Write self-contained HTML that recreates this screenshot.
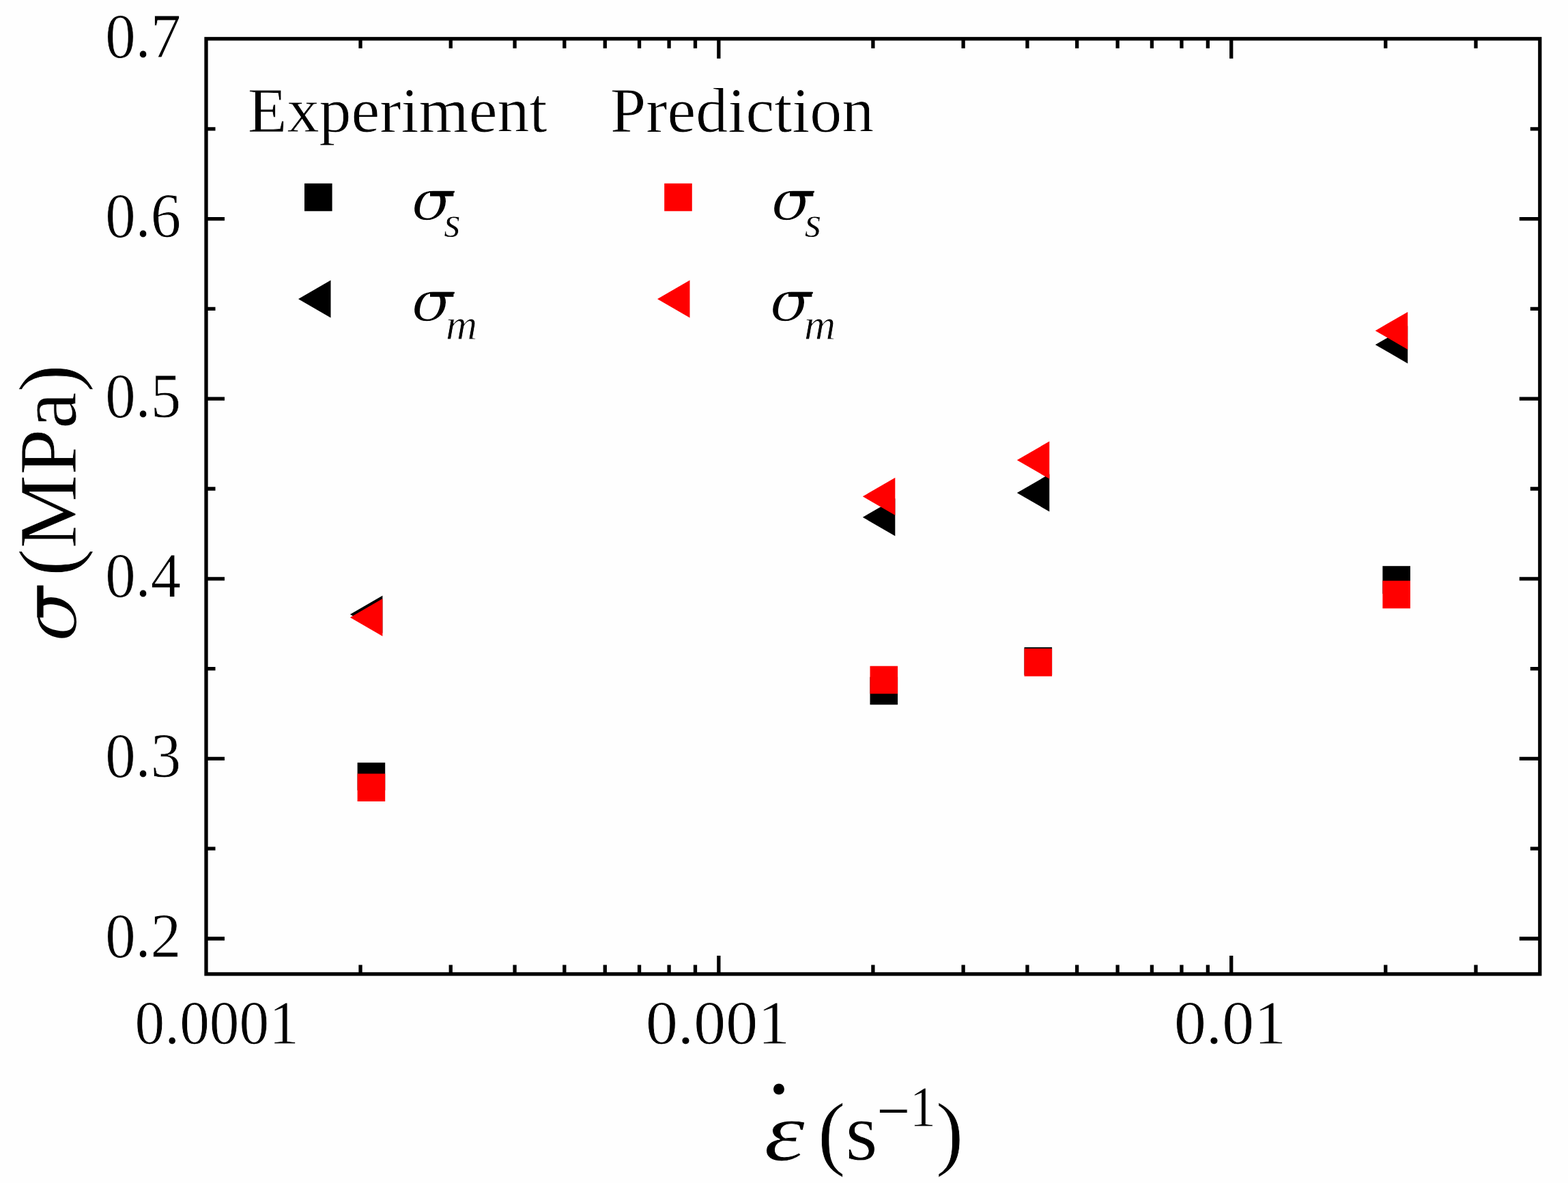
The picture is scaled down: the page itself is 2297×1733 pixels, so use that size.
<!DOCTYPE html>
<html lang="en"><head><meta charset="utf-8"><title>Stress vs strain rate</title>
<style>html,body{margin:0;padding:0;background:#fff;}body{width:2297px;height:1733px;overflow:hidden;}svg{display:block;filter:blur(0.45px);}text{font-family:"Liberation Serif","DejaVu Serif",serif;fill:#000;stroke:#fefefe;stroke-width:0.8px;}.g{font-family:"DejaVu Serif","Liberation Serif",serif;font-style:italic;}.t{font-size:94px;}.i{font-style:italic;}</style></head><body>
<svg width="2297" height="1733" viewBox="0 0 2297 1733" role="img" aria-label="Stress versus strain rate: experiment and prediction">
<rect x="0" y="0" width="2297" height="1733" fill="#fefefe"/>
<path d="M528.03 1426.90v-13.50M528.03 56.80v14.00M660.25 1426.90v-13.50M660.25 56.80v14.00M754.07 1426.90v-13.50M754.07 56.80v14.00M826.83 1426.90v-13.50M826.83 56.80v14.00M886.29 1426.90v-13.50M886.29 56.80v14.00M936.56 1426.90v-13.50M936.56 56.80v14.00M980.10 1426.90v-13.50M980.10 56.80v14.00M1018.51 1426.90v-13.50M1018.51 56.80v14.00M1052.87 1426.90v-27.00M1052.87 56.80v29.00M1278.90 1426.90v-13.50M1278.90 56.80v14.00M1411.12 1426.90v-13.50M1411.12 56.80v14.00M1504.93 1426.90v-13.50M1504.93 56.80v14.00M1577.70 1426.90v-13.50M1577.70 56.80v14.00M1637.15 1426.90v-13.50M1637.15 56.80v14.00M1687.42 1426.90v-13.50M1687.42 56.80v14.00M1730.97 1426.90v-13.50M1730.97 56.80v14.00M1769.38 1426.90v-13.50M1769.38 56.80v14.00M1803.73 1426.90v-27.00M1803.73 56.80v29.00M2029.77 1426.90v-13.50M2029.77 56.80v14.00M2161.99 1426.90v-13.50M2161.99 56.80v14.00M302.00 1375.00h27.00M2255.80 1375.00h-30.00M302.00 1243.20h13.50M2255.80 1243.20h-14.00M302.00 1111.40h27.00M2255.80 1111.40h-30.00M302.00 979.60h13.50M2255.80 979.60h-14.00M302.00 847.80h27.00M2255.80 847.80h-30.00M302.00 716.00h13.50M2255.80 716.00h-14.00M302.00 584.20h27.00M2255.80 584.20h-30.00M302.00 452.40h13.50M2255.80 452.40h-14.00M302.00 320.60h27.00M2255.80 320.60h-30.00M302.00 188.80h13.50M2255.80 188.80h-14.00" stroke="#000" stroke-width="5.3" fill="none"/>
<rect x="302.0" y="56.8" width="1953.8" height="1370.1" fill="none" stroke="#000" stroke-width="5.3"/>
<text transform="translate(154.20,1401.50) scale(0.945,1)" font-size="94">0.2</text>
<text transform="translate(154.20,1137.90) scale(0.945,1)" font-size="94">0.3</text>
<text transform="translate(154.20,874.30) scale(0.945,1)" font-size="94">0.4</text>
<text transform="translate(154.20,610.70) scale(0.945,1)" font-size="94">0.5</text>
<text transform="translate(154.20,347.10) scale(0.945,1)" font-size="94">0.6</text>
<text transform="translate(154.20,83.50) scale(0.945,1)" font-size="94">0.7</text>
<text transform="translate(197.60,1528.50) scale(0.95,1)" font-size="92">0.0001</text>
<text transform="translate(1051.50,1528.50) scale(1.02,1)" font-size="92" text-anchor="middle">0.001</text>
<text transform="translate(1802.00,1528.50) scale(1.02,1)" font-size="92" text-anchor="middle">0.01</text>
<rect x="523.6" y="1117.2" width="40.6" height="40.6" fill="#000"/>
<rect x="1274.5" y="991.7" width="40.6" height="40.6" fill="#000"/>
<rect x="1500.5" y="948.2" width="40.6" height="40.6" fill="#000"/>
<rect x="2025.4" y="829.2" width="40.6" height="40.6" fill="#000"/>
<path d="M512.9 900.0L560.4 872.5L560.4 927.5Z" fill="#000"/>
<path d="M1263.8 757.7L1311.3 730.2L1311.3 785.2Z" fill="#000"/>
<path d="M1489.8 722.0L1537.3 694.5L1537.3 749.5Z" fill="#000"/>
<path d="M2014.7 505.0L2062.2 477.5L2062.2 532.5Z" fill="#000"/>
<rect x="523.6" y="1133.4" width="40.6" height="40.6" fill="#ff0000"/>
<rect x="1274.5" y="975.7" width="40.6" height="40.6" fill="#ff0000"/>
<rect x="1500.5" y="950.1" width="40.6" height="40.6" fill="#ff0000"/>
<rect x="2025.4" y="850.7" width="40.6" height="40.6" fill="#ff0000"/>
<path d="M512.9 904.5L560.4 877.0L560.4 932.0Z" fill="#ff0000"/>
<path d="M1263.8 727.3L1311.3 699.8L1311.3 754.8Z" fill="#ff0000"/>
<path d="M1489.8 674.0L1537.3 646.5L1537.3 701.5Z" fill="#ff0000"/>
<path d="M2014.7 484.4L2062.2 456.9L2062.2 511.9Z" fill="#ff0000"/>
<text transform="translate(363.00,193.00)" font-size="94">Experiment</text>
<text transform="translate(894.00,193.00)" font-size="94">Prediction</text>
<rect x="446.0" y="268.7" width="40.6" height="40.6" fill="#000"/>
<path d="M437.0 438.0L484.5 410.5L484.5 465.5Z" fill="#000"/>
<rect x="973.2" y="268.7" width="40.6" height="40.6" fill="#ff0000"/>
<path d="M963.0 438.0L1010.5 410.5L1010.5 465.5Z" fill="#ff0000"/>
<text class="g" transform="translate(602.20,322.40) scale(1.117,1)" font-size="82.4" style="stroke-width:1.44px">σ</text>
<rect x="630.0" y="280.5" width="34.4" height="7"/>
<text transform="translate(650.00,347.00)" font-size="64" class="i">s</text>
<text class="g" transform="translate(602.20,469.70) scale(1.117,1)" font-size="82.4" style="stroke-width:1.44px">σ</text>
<rect x="630.0" y="427.8" width="34.4" height="7"/>
<text transform="translate(653.00,497.00)" font-size="64" class="i">m</text>
<text class="g" transform="translate(1129.20,322.40) scale(1.117,1)" font-size="82.4" style="stroke-width:1.44px">σ</text>
<rect x="1157.0" y="280.5" width="34.4" height="7"/>
<text transform="translate(1178.60,347.00)" font-size="64" class="i">s</text>
<text class="g" transform="translate(1127.20,469.70) scale(1.117,1)" font-size="82.4" style="stroke-width:1.44px">σ</text>
<rect x="1155.0" y="427.8" width="34.4" height="7"/>
<text transform="translate(1178.00,497.00)" font-size="64" class="i">m</text>
<text class="g" transform="translate(110.60,941.00) rotate(-90) scale(1.09,1)" font-size="109.8" style="stroke-width:1.92px">σ</text>
<rect x="54.3" y="857.6" width="9.3" height="47"/>
<text transform="translate(111.00,844.00) rotate(-90)" font-size="121.3">(MPa)</text>
<text transform="translate(1119.30,1699.50) scale(1.25,1.01)" font-size="121.3" class="i">ε</text>
<text transform="translate(1198.00,1699.00)" font-size="121.3">(s</text>
<text transform="translate(1284.30,1663.50) scale(1.04,1.3)" font-size="84">−</text>
<text transform="translate(1333.00,1650.00) scale(0.9,1.01)" font-size="84">1</text>
<text transform="translate(1371.00,1699.00)" font-size="121.3">)</text>
<circle cx="1141" cy="1595.5" r="8" fill="#000"/>
</svg></body></html>
